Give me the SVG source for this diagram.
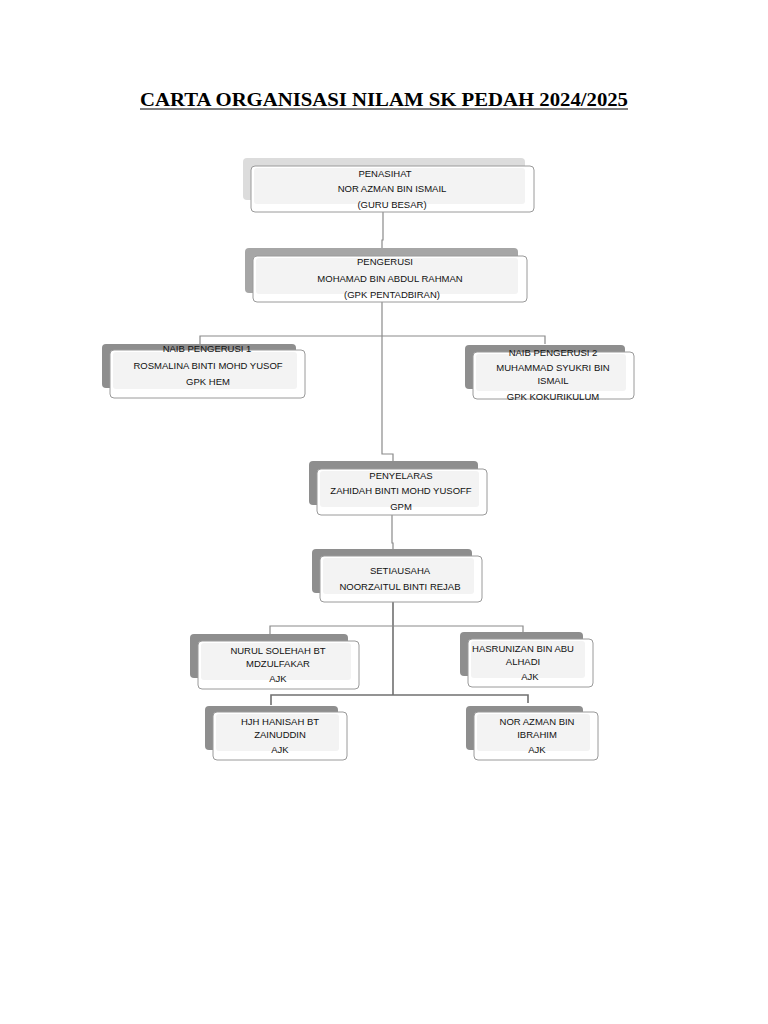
<svg xmlns="http://www.w3.org/2000/svg" width="768" height="1024" viewBox="0 0 768 1024">
<style>
.bg{fill:#ffffff}
.back1{fill:#dcdcdc}
.back2{fill:#a6a6a6}
.back{fill:#8e8e8e}
.front{fill:#ffffff;stroke:#9a9a9a;stroke-width:1}
.inner{fill:#f3f3f3}
.t{font-family:"Liberation Sans",Arial,sans-serif;font-size:9.5px;fill:#111111;text-anchor:middle}
.title{font-family:"Liberation Serif","Times New Roman",serif;font-size:19px;font-weight:bold;fill:#000;text-anchor:middle}
.c{fill:none;stroke:#8a8a8a;stroke-width:1.2}
.c2{fill:none;stroke:#707070;stroke-width:1.6}
</style>
<rect class="bg" x="0" y="0" width="768" height="1024"/>
<g id="title">
<text class="title" x="384" y="106" textLength="488" lengthAdjust="spacingAndGlyphs">CARTA ORGANISASI NILAM SK PEDAH 2024/2025</text>
<line x1="140" y1="109" x2="628" y2="109" stroke="#000" stroke-width="1.2"/>
</g>
<g id="connectors">
<path class="c" d="M383,212 V240 H382 V249"/>
<path class="c" d="M382,302 V454 H393 V462"/>
<path class="c" d="M200,345 V336 H545 V344"/>
<path class="c" d="M392,515 V543 H393 V549"/>
<path class="c2" d="M393,602 V695"/>
<path class="c" d="M270,634 V626 H523 V632"/>
<path class="c2" d="M271,705 V695 H528 V703"/>
</g>
<g id="n-penasihat">
<rect class="back1" x="243" y="158" width="282" height="42" rx="4"/>
<rect class="front" x="251" y="166" width="283" height="46" rx="4"/>
<rect class="inner" x="254" y="168" width="271" height="36" rx="3"/>
<text class="t" x="385" y="177">PENASIHAT</text>
<text class="t" x="392" y="192">NOR AZMAN BIN ISMAIL</text>
<text class="t" x="392" y="208">(GURU BESAR)</text>
</g>
<g id="n-pengerusi">
<rect class="back2" x="245" y="248" width="273" height="45" rx="4"/>
<rect class="front" x="253" y="256" width="274" height="46" rx="4"/>
<rect class="inner" x="256" y="258" width="262" height="36" rx="3"/>
<text class="t" x="385" y="265">PENGERUSI</text>
<text class="t" x="390" y="282">MOHAMAD BIN ABDUL RAHMAN</text>
<text class="t" x="392" y="298">(GPK PENTADBIRAN)</text>
</g>
<g id="n-naib1">
<rect class="back" x="102" y="344" width="194" height="44" rx="4"/>
<rect class="front" x="110" y="350" width="195" height="48" rx="4"/>
<rect class="inner" x="113" y="352" width="184" height="37" rx="3"/>
<text class="t" x="207" y="352">NAIB PENGERUSI 1</text>
<text class="t" x="208" y="369">ROSMALINA BINTI MOHD YUSOF</text>
<text class="t" x="208" y="385">GPK HEM</text>
</g>
<g id="n-naib2">
<rect class="back" x="465" y="345" width="160" height="44" rx="4"/>
<rect class="front" x="473" y="352" width="161" height="47" rx="4"/>
<rect class="inner" x="476" y="354" width="150" height="37" rx="3"/>
<text class="t" x="553" y="356">NAIB PENGERUSI 2</text>
<text class="t" x="553" y="371">MUHAMMAD SYUKRI BIN</text>
<text class="t" x="553" y="384">ISMAIL</text>
<text class="t" x="553" y="400">GPK KOKURIKULUM</text>
</g>
<g id="n-penyelaras">
<rect class="back" x="309" y="461" width="169" height="44" rx="4"/>
<rect class="front" x="317" y="469" width="170" height="46" rx="4"/>
<rect class="inner" x="320" y="471" width="159" height="36" rx="3"/>
<text class="t" x="401" y="479">PENYELARAS</text>
<text class="t" x="401" y="494">ZAHIDAH BINTI MOHD YUSOFF</text>
<text class="t" x="401" y="510">GPM</text>
</g>
<g id="n-setiausaha">
<rect class="back" x="312" y="549" width="160" height="44" rx="4"/>
<rect class="front" x="320" y="556" width="162" height="46" rx="4"/>
<rect class="inner" x="323" y="558" width="151" height="36" rx="3"/>
<text class="t" x="400" y="574">SETIAUSAHA</text>
<text class="t" x="400" y="590">NOORZAITUL BINTI REJAB</text>
</g>
<g id="n-nurul">
<rect class="back" x="190" y="634" width="158" height="44" rx="4"/>
<rect class="front" x="198" y="641" width="161" height="48" rx="4"/>
<rect class="inner" x="201" y="643" width="150" height="37" rx="3"/>
<text class="t" x="278" y="654">NURUL SOLEHAH BT</text>
<text class="t" x="278" y="667">MDZULFAKAR</text>
<text class="t" x="278" y="682">AJK</text>
</g>
<g id="n-hasrunizan">
<rect class="back" x="460" y="632" width="123" height="44" rx="4"/>
<rect class="front" x="468" y="639" width="125" height="48" rx="4"/>
<rect class="inner" x="471" y="641" width="114" height="37" rx="3"/>
<text class="t" x="523" y="652">HASRUNIZAN BIN ABU</text>
<text class="t" x="523" y="665">ALHADI</text>
<text class="t" x="530" y="680">AJK</text>
</g>
<g id="n-hanisah">
<rect class="back" x="205" y="706" width="133" height="44" rx="4"/>
<rect class="front" x="213" y="712" width="134" height="48" rx="4"/>
<rect class="inner" x="216" y="714" width="123" height="37" rx="3"/>
<text class="t" x="280" y="725">HJH HANISAH BT</text>
<text class="t" x="280" y="738">ZAINUDDIN</text>
<text class="t" x="280" y="753">AJK</text>
</g>
<g id="n-norazman">
<rect class="back" x="466" y="706" width="117" height="44" rx="4"/>
<rect class="front" x="474" y="712" width="124" height="48" rx="4"/>
<rect class="inner" x="477" y="714" width="113" height="37" rx="3"/>
<text class="t" x="537" y="725">NOR AZMAN BIN</text>
<text class="t" x="537" y="738">IBRAHIM</text>
<text class="t" x="537" y="753">AJK</text>
</g>
</svg>
